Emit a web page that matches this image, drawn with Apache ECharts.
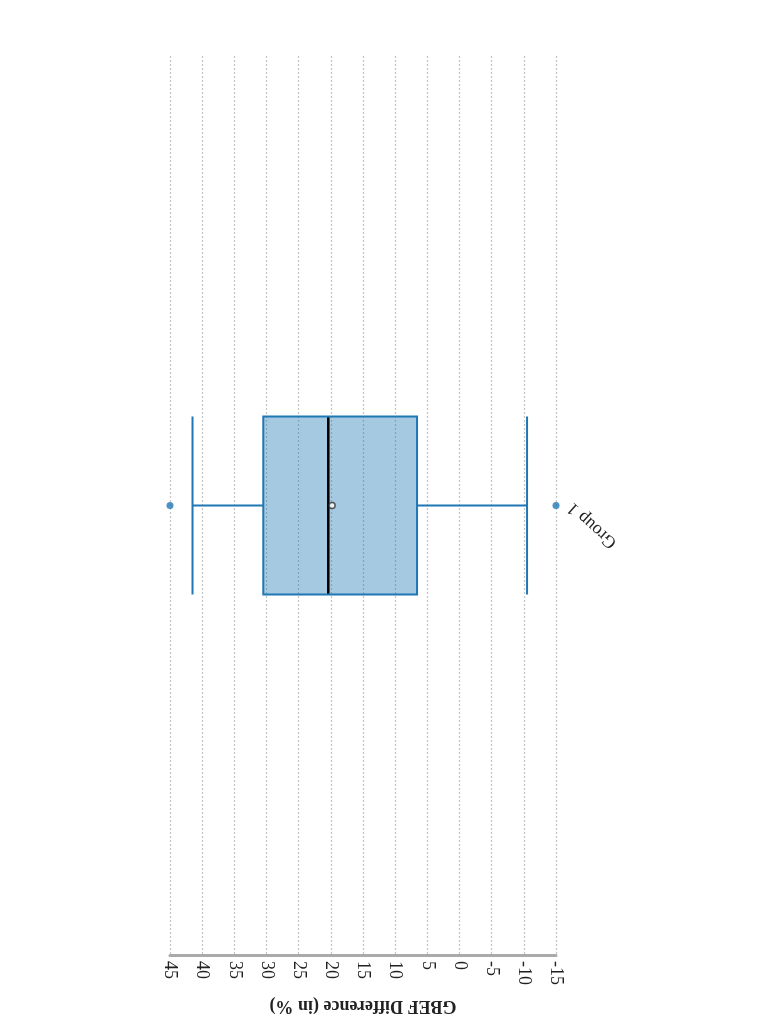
<!DOCTYPE html>
<html><head><meta charset="utf-8">
<script src="https://cdn.jsdelivr.net/npm/echarts@6/dist/echarts.min.js"></script>
<style>html,body{margin:0;padding:0;background:#fff}#c{width:768px;height:1024px}</style>
</head><body><div id="c"></div>
<script>
var categories = ['Group 1'];
var boxStats = [[-10.5, 6.6, 20.4, 30.5, 41.5]]; // min, Q1, median, Q3, max
var meanValues = [19.8];
var outliers = [[45, 'Group 1'], [-15, 'Group 1']];
var axisMin = -15, axisMax = 45, axisStep = 5;

var chart = echarts.init(document.getElementById('c'));
var font = '"Liberation Serif", "DejaVu Serif", serif';
chart.setOption({
  animation: false,
  grid: {left: 170, right: 212, top: 56, bottom: 69, containLabel: false},
  xAxis: {
    type: 'value', min: axisMin, max: axisMax, interval: axisStep, inverse: true,
    position: 'bottom',
    name: 'GBEF Difference (in %)', nameLocation: 'middle', nameGap: 42, nameRotate: 180,
    nameTextStyle: {fontFamily: font, fontSize: 18, fontWeight: 'bold', color: '#222'},
    axisLine: {show: true, lineStyle: {color: '#aaa', width: 3}},
    axisTick: {show: false},
    axisLabel: {rotate: -90, fontFamily: font, fontSize: 18, color: '#222', margin: 6},
    splitLine: {show: true, lineStyle: {color: '#c4c4c4', type: [2, 2], width: 1.2}}
  },
  yAxis: {
    type: 'category', data: categories, position: 'right',
    axisLine: {show: false}, axisTick: {show: false},
    splitLine: {show: false},
    axisLabel: {rotate: 138, fontFamily: font, fontSize: 18, color: '#222', margin: 14}
  },
  series: [
    {
      type: 'boxplot', data: boxStats, boxWidth: [178, 178],
      itemStyle: {color: 'rgba(31,119,180,0.4)', borderColor: '#1f77b4', borderWidth: 2}
    },
    {
      type: 'custom', clip: false,
      data: boxStats.map(function (d, i) { return [d[2], i]; }),
      renderItem: function (params, api) {
        var p = api.coord([api.value(0), api.value(1)]);
        return {type: 'line', shape: {x1: p[0], y1: p[1] - 88, x2: p[0], y2: p[1] + 88},
          style: {stroke: '#000', lineWidth: 2.5}};
      },
      z: 5
    },
    {
      type: 'scatter', clip: false,
      data: meanValues.map(function (v, i) { return [v, categories[i]]; }),
      symbol: 'circle', symbolSize: 6,
      itemStyle: {color: '#fff', borderColor: '#333', borderWidth: 1.5}, z: 6
    },
    {
      type: 'scatter', clip: false, data: outliers, symbol: 'circle', symbolSize: 7,
      itemStyle: {color: '#1f77b4'}, z: 6
    }
  ]
});
</script></body></html>
